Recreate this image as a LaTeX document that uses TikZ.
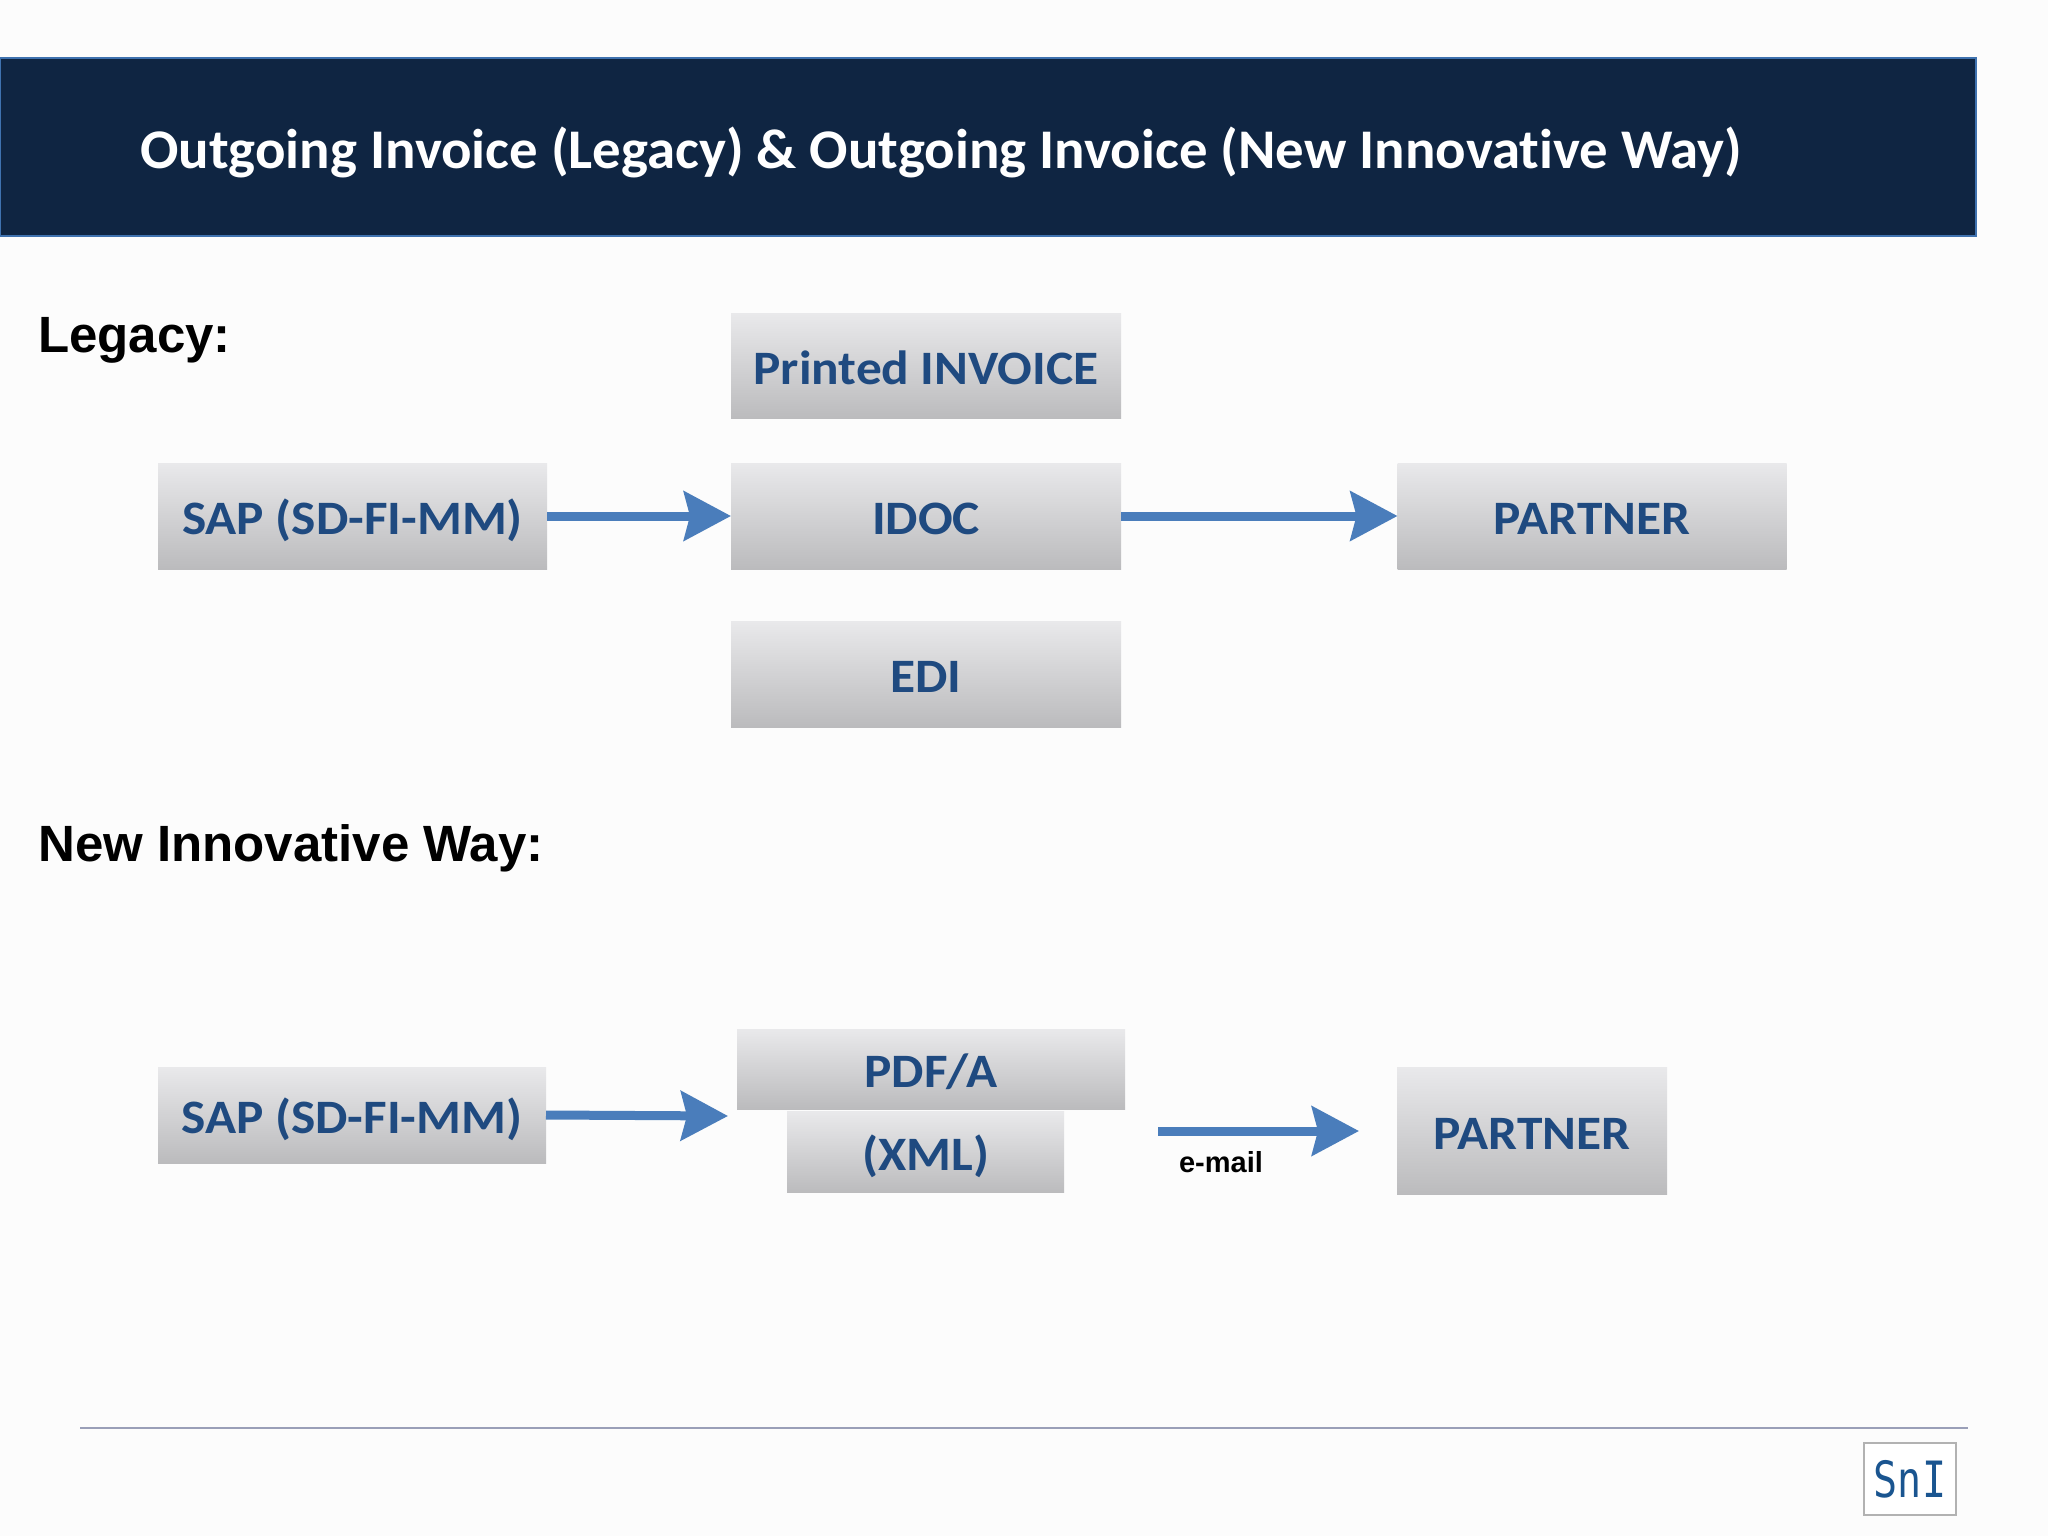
\documentclass[tikz,border=0pt]{standalone}
\usepackage{fontspec}
\setmainfont[Ligatures=NoCommon,FakeStretch=1.015]{Carlito}
\newfontfamily\labelfont[Ligatures=NoCommon,FakeStretch=1.07]{Carlito}
\newfontfamily\headfont{Liberation Sans}
\newfontfamily\logofont[FakeStretch=0.8]{DejaVu Sans Mono}
\usetikzlibrary{arrows.meta}
\definecolor{navy}{HTML}{0F2542}
\definecolor{edge}{HTML}{3F72AF}
\definecolor{boxtext}{HTML}{1F4A80}
\definecolor{arrowblue}{HTML}{4A7DBB}
\definecolor{boxtop}{HTML}{E9E9EB}
\definecolor{boxbot}{HTML}{BBBBBD}
\definecolor{rulecol}{HTML}{9A9FB8}
\definecolor{logoblue}{HTML}{1A5590}
\tikzset{
  x=1pt,y=-1pt,
  grbox/.style={rectangle,inner sep=0pt,outer sep=0pt,top color=boxtop,bottom color=boxbot,
    font=\labelfont\fontsize{48}{48}\selectfont\bfseries,text=boxtext,text height=37pt,text depth=0pt,align=center},
  flow/.style={draw=arrowblue,line width=9pt,-{Stealth[length=47pt,width=49pt,inset=6pt]}},
  heading/.style={anchor=base west,inner sep=0pt,font=\headfont\fontsize{51}{51}\selectfont\bfseries,text=black},
}
\begin{document}
\begin{tikzpicture}
\useasboundingbox (0,0) rectangle (2048,1536);
\fill[white!99!black] (0,0) rectangle (2048,1536);
\node[rectangle,fill=navy,draw=edge,line width=2pt,inner sep=0pt,minimum width=1976pt,minimum height=178pt] (band) at (988,147) {};
\node[anchor=base west,inner sep=0pt,text=white,font=\fontsize{56}{56}\selectfont\bfseries] (title) at (140,168) {Outgoing Invoice (Legacy) \& Outgoing Invoice (New Innovative Way)};
\node[heading] (legacy) at (38,352) {Legacy:};
\node[heading] (newway) at (38,861) {New Innovative Way:};
\node[grbox,minimum width=390pt,minimum height=105pt] (printed) at (926,366) {Printed INVOICE};
\node[grbox,minimum width=389pt,minimum height=106pt] (sapa) at (352.5,516) {SAP (SD-FI-MM)};
\node[grbox,minimum width=390pt,minimum height=106pt] (idoc) at (926,516) {IDOC};
\node[grbox,minimum width=389pt,minimum height=106pt] (partnera) at (1592,516) {PARTNER};
\node[grbox,minimum width=390pt,minimum height=106pt] (edi) at (926,674) {EDI};
\node[grbox,minimum width=388pt,minimum height=96pt] (sapb) at (352,1115) {SAP (SD-FI-MM)};
\node[grbox,minimum width=388pt,minimum height=80pt] (pdfa) at (931,1069) {PDF/A};
\node[grbox,minimum width=277pt,minimum height=81pt] (xml) at (925.5,1152) {(XML)};
\node[grbox,minimum width=270pt,minimum height=127pt] (partnerb) at (1532,1131) {PARTNER};
\node[anchor=base,inner sep=0pt,text=black,font=\headfont\fontsize{29}{29}\selectfont\bfseries] (mail) at (1221,1172) {e-mail};
\coordinate (tipb) at (728,1116);
\coordinate (mailstart) at (1158,1131);
\coordinate (mailtip) at (1359,1131);
\draw[flow] (sapa.east) -- (idoc.west);
\draw[flow] (idoc.east) -- (partnera.west);
\draw[flow] (sapb.east) -- (tipb);
\draw[flow] (mailstart) -- (mailtip);
\coordinate (rulea) at (80,1428);
\coordinate (ruleb) at (1968,1428);
\draw[color=rulecol,line width=2pt] (rulea) -- (ruleb);
\node[rectangle,draw=black!30,line width=2pt,fill=white,inner sep=0pt,minimum width=92pt,minimum height=72pt,text=logoblue,font=\logofont\fontsize{50}{50}\selectfont,text height=37pt,text depth=0pt] (logo) at (1910,1479) {SnI};
\end{tikzpicture}
\end{document}
